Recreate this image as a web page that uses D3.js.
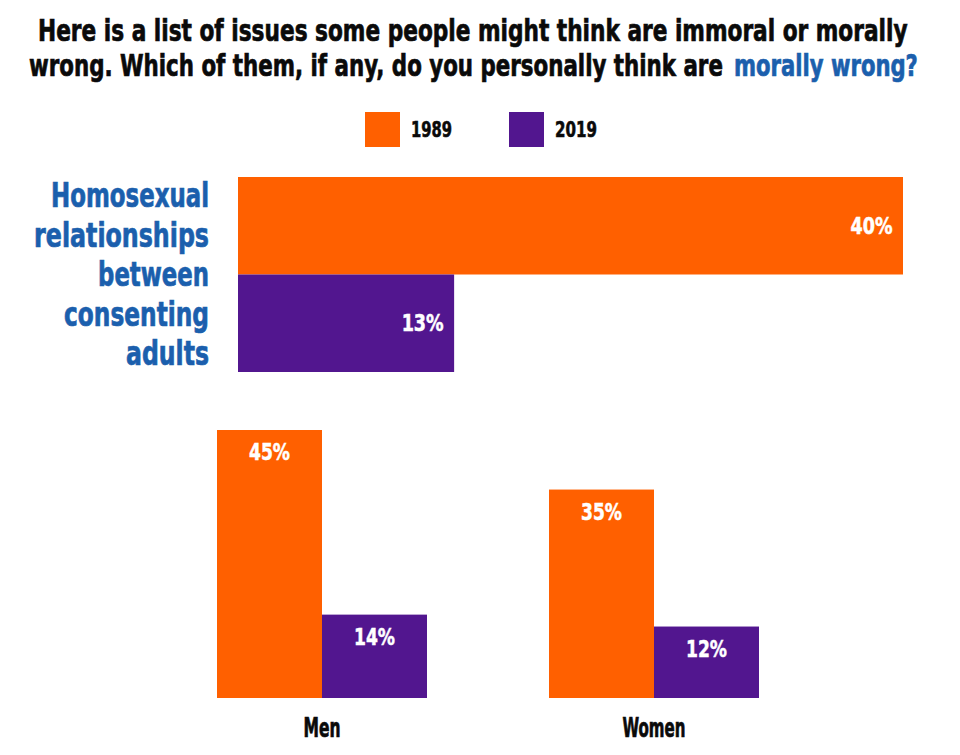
<!DOCTYPE html>
<html>
<head>
<meta charset="utf-8">
<script src="https://cdn.jsdelivr.net/npm/d3@7"></script>
<style>
  html, body { margin: 0; padding: 0; background: #fff; }
  svg { display: block; }
  text { font-family: "Liberation Sans Narrow", "DejaVu Sans Condensed", "Arial Narrow", sans-serif; font-weight: bold; }
</style>
</head>
<body>
<svg id="chart" width="960" height="755"></svg>
<script>
// ---- Data ----
const years = ["1989", "2019"];
const topCategory = ["Homosexual", "relationships", "between", "consenting", "adults"];
const topValues = [40, 13];               // 1989, 2019 (all respondents)
const genders = ["Men", "Women"];
const values1989 = [45, 35];              // Men, Women
const values2019 = [14, 12];              // Men, Women
const titleLine1 = "Here is a list of issues some people might think are immoral or morally";
const titleLine2a = "wrong. Which of them, if any, do you personally think are";
const titleLine2b = "morally wrong?";

// ---- Styles ----
const colors = { "1989": "#FF6000", "2019": "#52168F" };
const blue = "#1B5FAD";
const ink = "#0a0a0a";

const svg = d3.select("#chart");

// Draw condensed text: render at natural width, then squeeze horizontally to the target width.
// anchor: "start" | "middle" | "end"
function condensed(parent, x, y, str, size, color, width, anchor, sw) {
  const t = parent.append("text")
    .attr("x", 0).attr("y", 0)
    .attr("text-anchor", anchor)
    .attr("font-size", size)
    .attr("fill", color).attr("stroke", color).attr("stroke-width", sw)
    .text(str);
  const natural = t.node().getComputedTextLength();
  const s = width / natural;
  t.attr("transform", `translate(${x},${y}) scale(${s},1)`);
  return t;
}

// Title
condensed(svg, 38, 41, titleLine1, 31, ink, 870, "start", 0.7);
condensed(svg, 29, 76, titleLine2a, 31, ink, 694, "start", 0.7);
condensed(svg, 734, 76, titleLine2b, 31, blue, 184, "start", 0.7);

// Legend
const legendX = [365, 509];
const legendW = [41, 42];
years.forEach((y, i) => {
  svg.append("rect").attr("x", legendX[i]).attr("y", 112).attr("width", 35).attr("height", 35)
    .attr("fill", colors[y]);
  condensed(svg, legendX[i] + 46, 137, y, 22, ink, legendW[i], "start", 0.6);
});

// ---- Top chart: horizontal bars ----
const xTop = d3.scaleLinear().domain([0, 40]).range([238, 903]);
const yTop = d3.scaleBand().domain(years).range([177, 372]).padding(0);

svg.append("g").selectAll("rect").data(years).join("rect")
  .attr("x", xTop(0))
  .attr("y", d => yTop(d))
  .attr("width", (d, i) => xTop(topValues[i]) - xTop(0))
  .attr("height", yTop.bandwidth())
  .attr("fill", d => colors[d]);

const topLabels = svg.append("g");
years.forEach((d, i) => {
  condensed(topLabels, xTop(topValues[i]) - 10.5, yTop(d) + yTop.bandwidth() / 2 + 8,
    topValues[i] + "%", 23, "#fff", 42, "end", 0.5);
});

// Category label
const catW = [158, 175, 111, 145, 83];
const catY = [207, 246.5, 286, 325.5, 365];
const catG = svg.append("g");
topCategory.forEach((d, i) => {
  condensed(catG, 209, catY[i], d, 33, blue, catW[i], "end", 0.7);
});

// ---- Bottom chart: grouped vertical bars ----
const x0 = d3.scaleBand().domain(genders).range([217, 759]).paddingInner(0.3675).paddingOuter(0);
const x1 = d3.scaleBand().domain(years).range([0, x0.bandwidth()]).padding(0);
const yBot = d3.scaleLinear().domain([0, 45]).range([698, 430]);

const rows = genders.map((g, i) => ({ g, vals: [ { y: "1989", v: values1989[i] }, { y: "2019", v: values2019[i] } ] }));

const grp = svg.append("g").selectAll("g").data(rows).join("g")
  .attr("transform", d => `translate(${x0(d.g)},0)`);

grp.selectAll("rect").data(d => d.vals).join("rect")
  .attr("x", d => x1(d.y))
  .attr("y", d => yBot(d.v))
  .attr("width", x1.bandwidth())
  .attr("height", d => yBot(0) - yBot(d.v))
  .attr("fill", d => colors[d.y]);

grp.each(function(row) {
  const g = d3.select(this);
  row.vals.forEach(d => {
    condensed(g, x1(d.y) + x1.bandwidth() / 2, yBot(d.v) + 30, d.v + "%", 23, "#fff", 41, "middle", 0.5);
  });
});

const genderW = { Men: 37, Women: 63 };
const gLab = svg.append("g");
genders.forEach(d => {
  condensed(gLab, x0(d) + x0.bandwidth() / 2, 737, d, 26, ink, genderW[d], "middle", 0.7);
});
</script>
</body>
</html>
